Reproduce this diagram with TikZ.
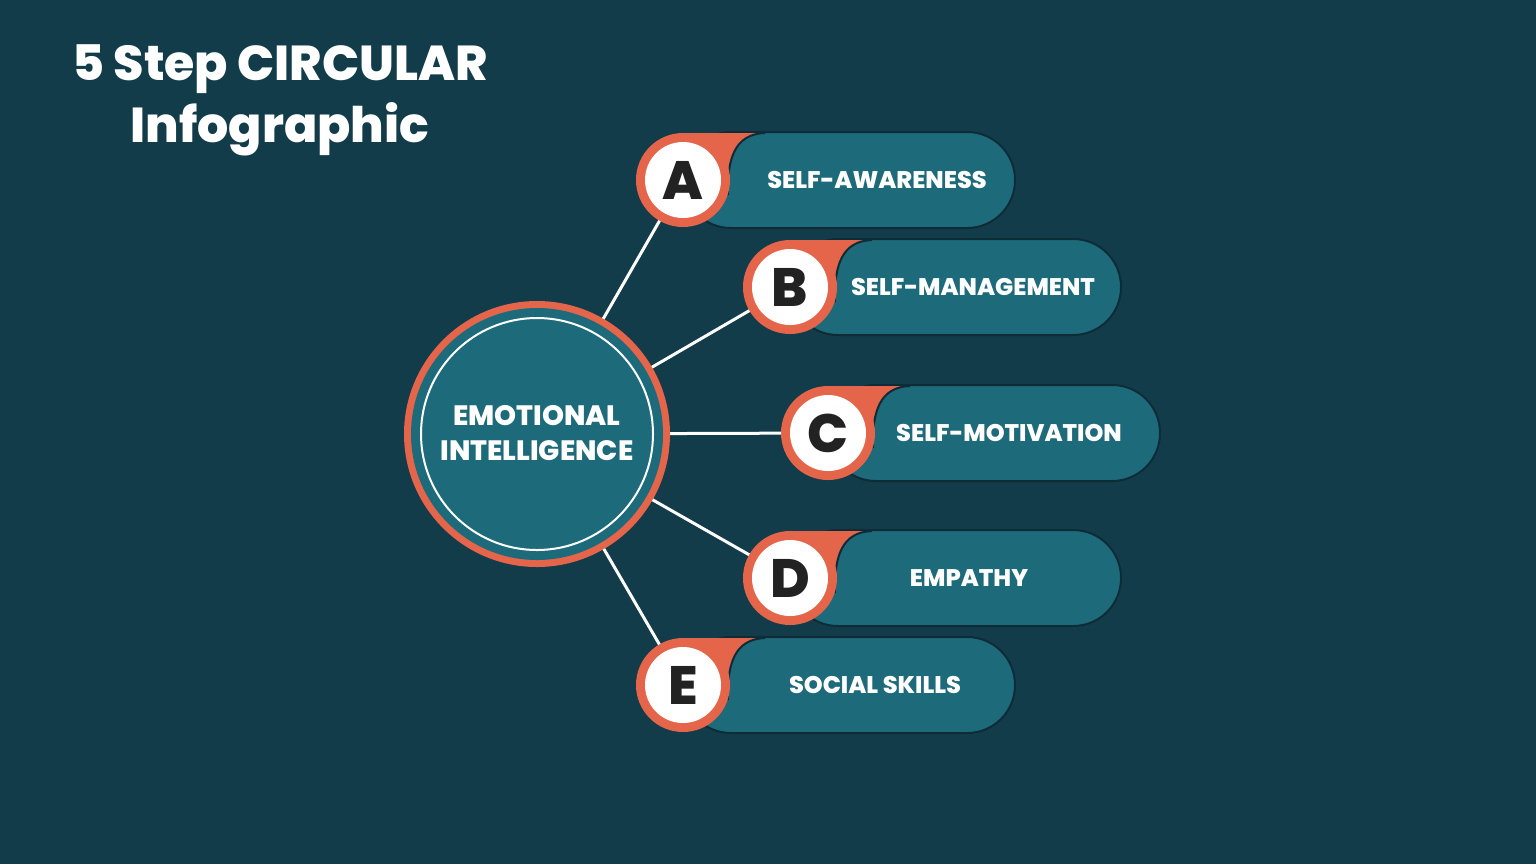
\documentclass[tikz,border=0pt]{standalone}
\usepackage{fontspec}
\setmainfont{Poppins}[BoldFont={Poppins ExtraBold}]
\definecolor{bg}{HTML}{133C4A}
\definecolor{tealc}{HTML}{1D6A7B}
\definecolor{orangec}{HTML}{E4654A}
\definecolor{edgec}{HTML}{0E2C37}
\definecolor{letterc}{HTML}{222222}
\tikzset{
  orangecirc/.style={circle, fill=orangec, minimum size=47pt, inner sep=0pt, outer sep=0pt},
  whitecirc/.style={circle, fill=white, minimum size=38pt, inner sep=0pt, text=letterc, font=\bfseries\fontsize{27}{27}\selectfont},
  pill/.style={fill=tealc, draw=edgec, line width=1pt, rounded corners=23.9pt},
  pilltext/.style={text=white, font=\bfseries\fontsize{12}{12}\selectfont},
  conn/.style={draw=white, line width=1.5pt},
}
\begin{document}
\begin{tikzpicture}[x=0.5pt,y=-0.5pt]
\fill[bg] (0,0) rectangle (1536,864);
\useasboundingbox (0,0) rectangle (1536,864);
% title
\node[text=white, align=center, font=\bfseries\fontsize{24.5}{31}\selectfont] (title) at (280,100) {5 Step CIRCULAR\\Infographic};
% center circle
\node[circle, fill=orangec, minimum size=133pt, inner sep=0pt, outer sep=0pt] (ei) at (537,434) {};
\fill[tealc] (ei.center) circle (126);
\draw[white, line width=1pt] (ei.center) circle (116);
\node[text=white, align=center, font=\bfseries\fontsize{14}{17.5}\selectfont] (eitext) at (537,433) {EMOTIONAL\\INTELLIGENCE};
% items
\foreach \L/\cx/\cy/\rx/\tx/\txt in {A/683/180/1015/877/SELF-AWARENESS, B/790/287/1121/973/SELF-MANAGEMENT, C/828/433/1160/1009/SELF-MOTIVATION, D/790/578/1121/969/EMPATHY, E/683/685/1015/875/SOCIAL SKILLS}{
  \draw[pill] (\cx,\cy-48) rectangle (\rx,\cy+48);
  \fill[orangec] (\cx,\cy-47) -- (\cx+82,\cy-47) .. controls (\cx+52,\cy-46) and (\cx+44,\cy-22) .. (\cx+45,\cy+15) -- (\cx,\cy) -- cycle;
  \draw[edgec, line width=1pt] (\cx+82,\cy-47) .. controls (\cx+52,\cy-46) and (\cx+44,\cy-22) .. (\cx+45,\cy+15);
  \node[orangecirc] (o\L) at (\cx,\cy) {};
  \node[whitecirc] (w\L) at (\cx,\cy) {\L};
  \node[pilltext] (t\L) at (\tx,\cy) {\txt};
  \draw[conn] (ei) -- (o\L);
}
\end{tikzpicture}
\end{document}
